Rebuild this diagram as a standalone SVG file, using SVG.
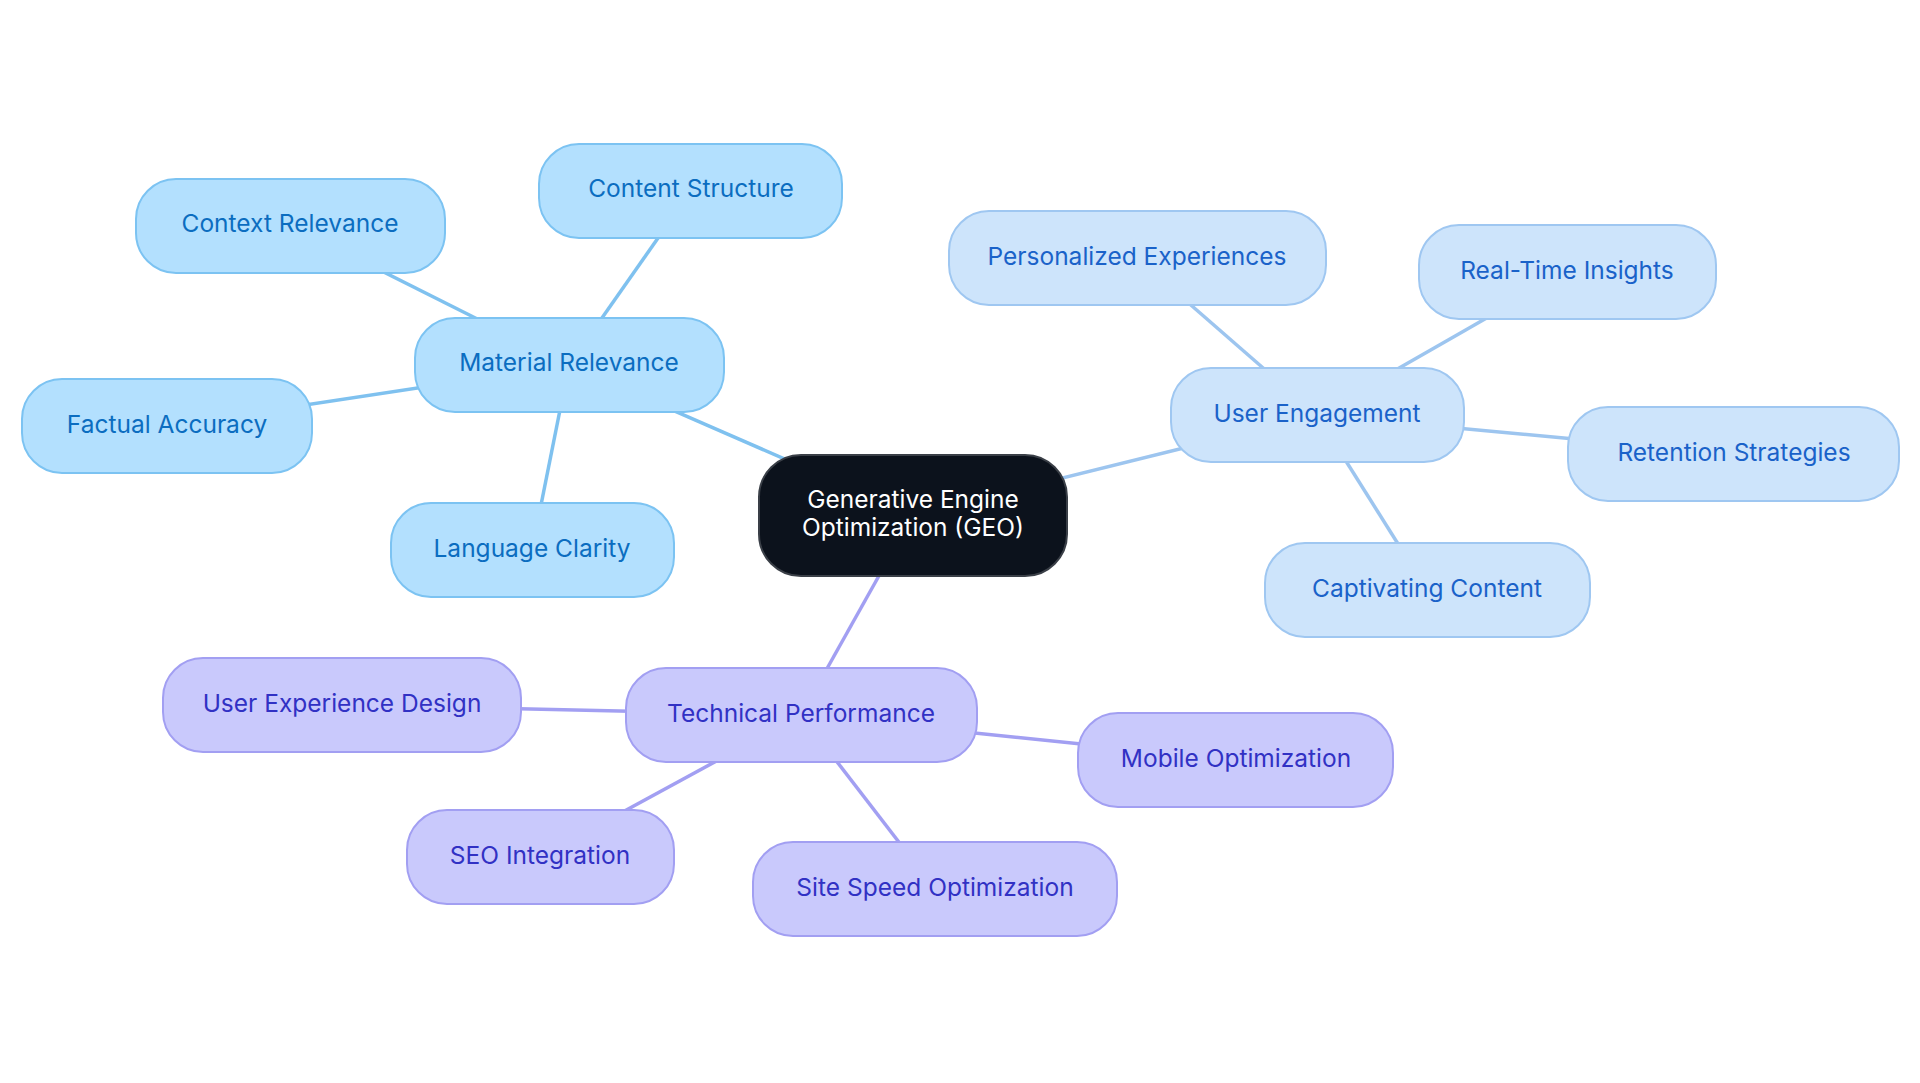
<svg xmlns="http://www.w3.org/2000/svg" width="1920" height="1083" viewBox="0 0 1920 1083">
<style>
text{font-family:Inter,"Noto Sans",sans-serif;font-size:24.5px;text-anchor:middle;dominant-baseline:central}
.m rect{fill:#b3e0fe;stroke:#7cc3f2;stroke-width:2}
.m text{fill:#0b6dc0}
.u rect{fill:#cde4fb;stroke:#9fc7f1;stroke-width:2}
.u text{fill:#1a62c9}
.t rect{fill:#c9c9fc;stroke:#a29ff2;stroke-width:2}
.t text{fill:#3131c4}
.c rect{fill:#0c121c;stroke:#3a3f47;stroke-width:2}
.c text{fill:#ffffff}
.em{stroke:#7fc1ef;stroke-width:3.5}
.eu{stroke:#9dc5ef;stroke-width:3.5}
.et{stroke:#a29ff2;stroke-width:3.5}
</style>
<rect width="1920" height="1083" fill="#ffffff"/>
<g id="connectors" fill="none">
<line class="em" x1="913" y1="515" x2="569" y2="365"/>
<line class="em" x1="569" y1="365" x2="691" y2="191"/>
<line class="em" x1="569" y1="365" x2="290" y2="225"/>
<line class="em" x1="569" y1="365" x2="167" y2="426"/>
<line class="em" x1="569" y1="365" x2="532" y2="550"/>
<line class="eu" x1="913" y1="515" x2="1317" y2="415"/>
<line class="eu" x1="1317" y1="415" x2="1137" y2="258"/>
<line class="eu" x1="1317" y1="415" x2="1567" y2="272"/>
<line class="eu" x1="1317" y1="415" x2="1734" y2="454"/>
<line class="eu" x1="1317" y1="415" x2="1427" y2="590"/>
<line class="et" x1="913" y1="515" x2="801" y2="715"/>
<line class="et" x1="801" y1="715" x2="342" y2="705"/>
<line class="et" x1="801" y1="715" x2="1236" y2="760"/>
<line class="et" x1="801" y1="715" x2="540" y2="857"/>
<line class="et" x1="801" y1="715" x2="935" y2="889"/>
</g>
<g id="root" class="c"><rect x="759" y="455" width="308" height="121" rx="42"/><text x="913" y="499">Generative Engine</text><text x="913" y="527">Optimization (GEO)</text></g>
<g id="material" class="m"><rect x="415" y="318" width="309" height="94" rx="40"/><text x="569" y="362">Material Relevance</text></g>
<g id="content-structure" class="m"><rect x="539" y="144" width="303" height="94" rx="40"/><text x="691" y="188">Content Structure</text></g>
<g id="context-relevance" class="m"><rect x="136" y="179" width="309" height="94" rx="40"/><text x="290" y="223">Context Relevance</text></g>
<g id="factual-accuracy" class="m"><rect x="22" y="379" width="290" height="94" rx="40"/><text x="167" y="424">Factual Accuracy</text></g>
<g id="language-clarity" class="m"><rect x="391" y="503" width="283" height="94" rx="40"/><text x="532" y="548">Language Clarity</text></g>
<g id="user-engagement" class="u"><rect x="1171" y="368" width="293" height="94" rx="40"/><text x="1317" y="413">User Engagement</text></g>
<g id="personalized" class="u"><rect x="949" y="211" width="377" height="94" rx="40"/><text x="1137" y="256">Personalized Experiences</text></g>
<g id="real-time" class="u"><rect x="1419" y="225" width="297" height="94" rx="40"/><text x="1567" y="270">Real-Time Insights</text></g>
<g id="retention" class="u"><rect x="1568" y="407" width="331" height="94" rx="40"/><text x="1734" y="452">Retention Strategies</text></g>
<g id="captivating" class="u"><rect x="1265" y="543" width="325" height="94" rx="40"/><text x="1427" y="588">Captivating Content</text></g>
<g id="technical" class="t"><rect x="626" y="668" width="351" height="94" rx="40"/><text x="801" y="713">Technical Performance</text></g>
<g id="ux-design" class="t"><rect x="163" y="658" width="358" height="94" rx="40"/><text x="342" y="703">User Experience Design</text></g>
<g id="mobile" class="t"><rect x="1078" y="713" width="315" height="94" rx="40"/><text x="1236" y="758">Mobile Optimization</text></g>
<g id="seo" class="t"><rect x="407" y="810" width="267" height="94" rx="40"/><text x="540" y="855">SEO Integration</text></g>
<g id="site-speed" class="t"><rect x="753" y="842" width="364" height="94" rx="40"/><text x="935" y="887">Site Speed Optimization</text></g>
</svg>
